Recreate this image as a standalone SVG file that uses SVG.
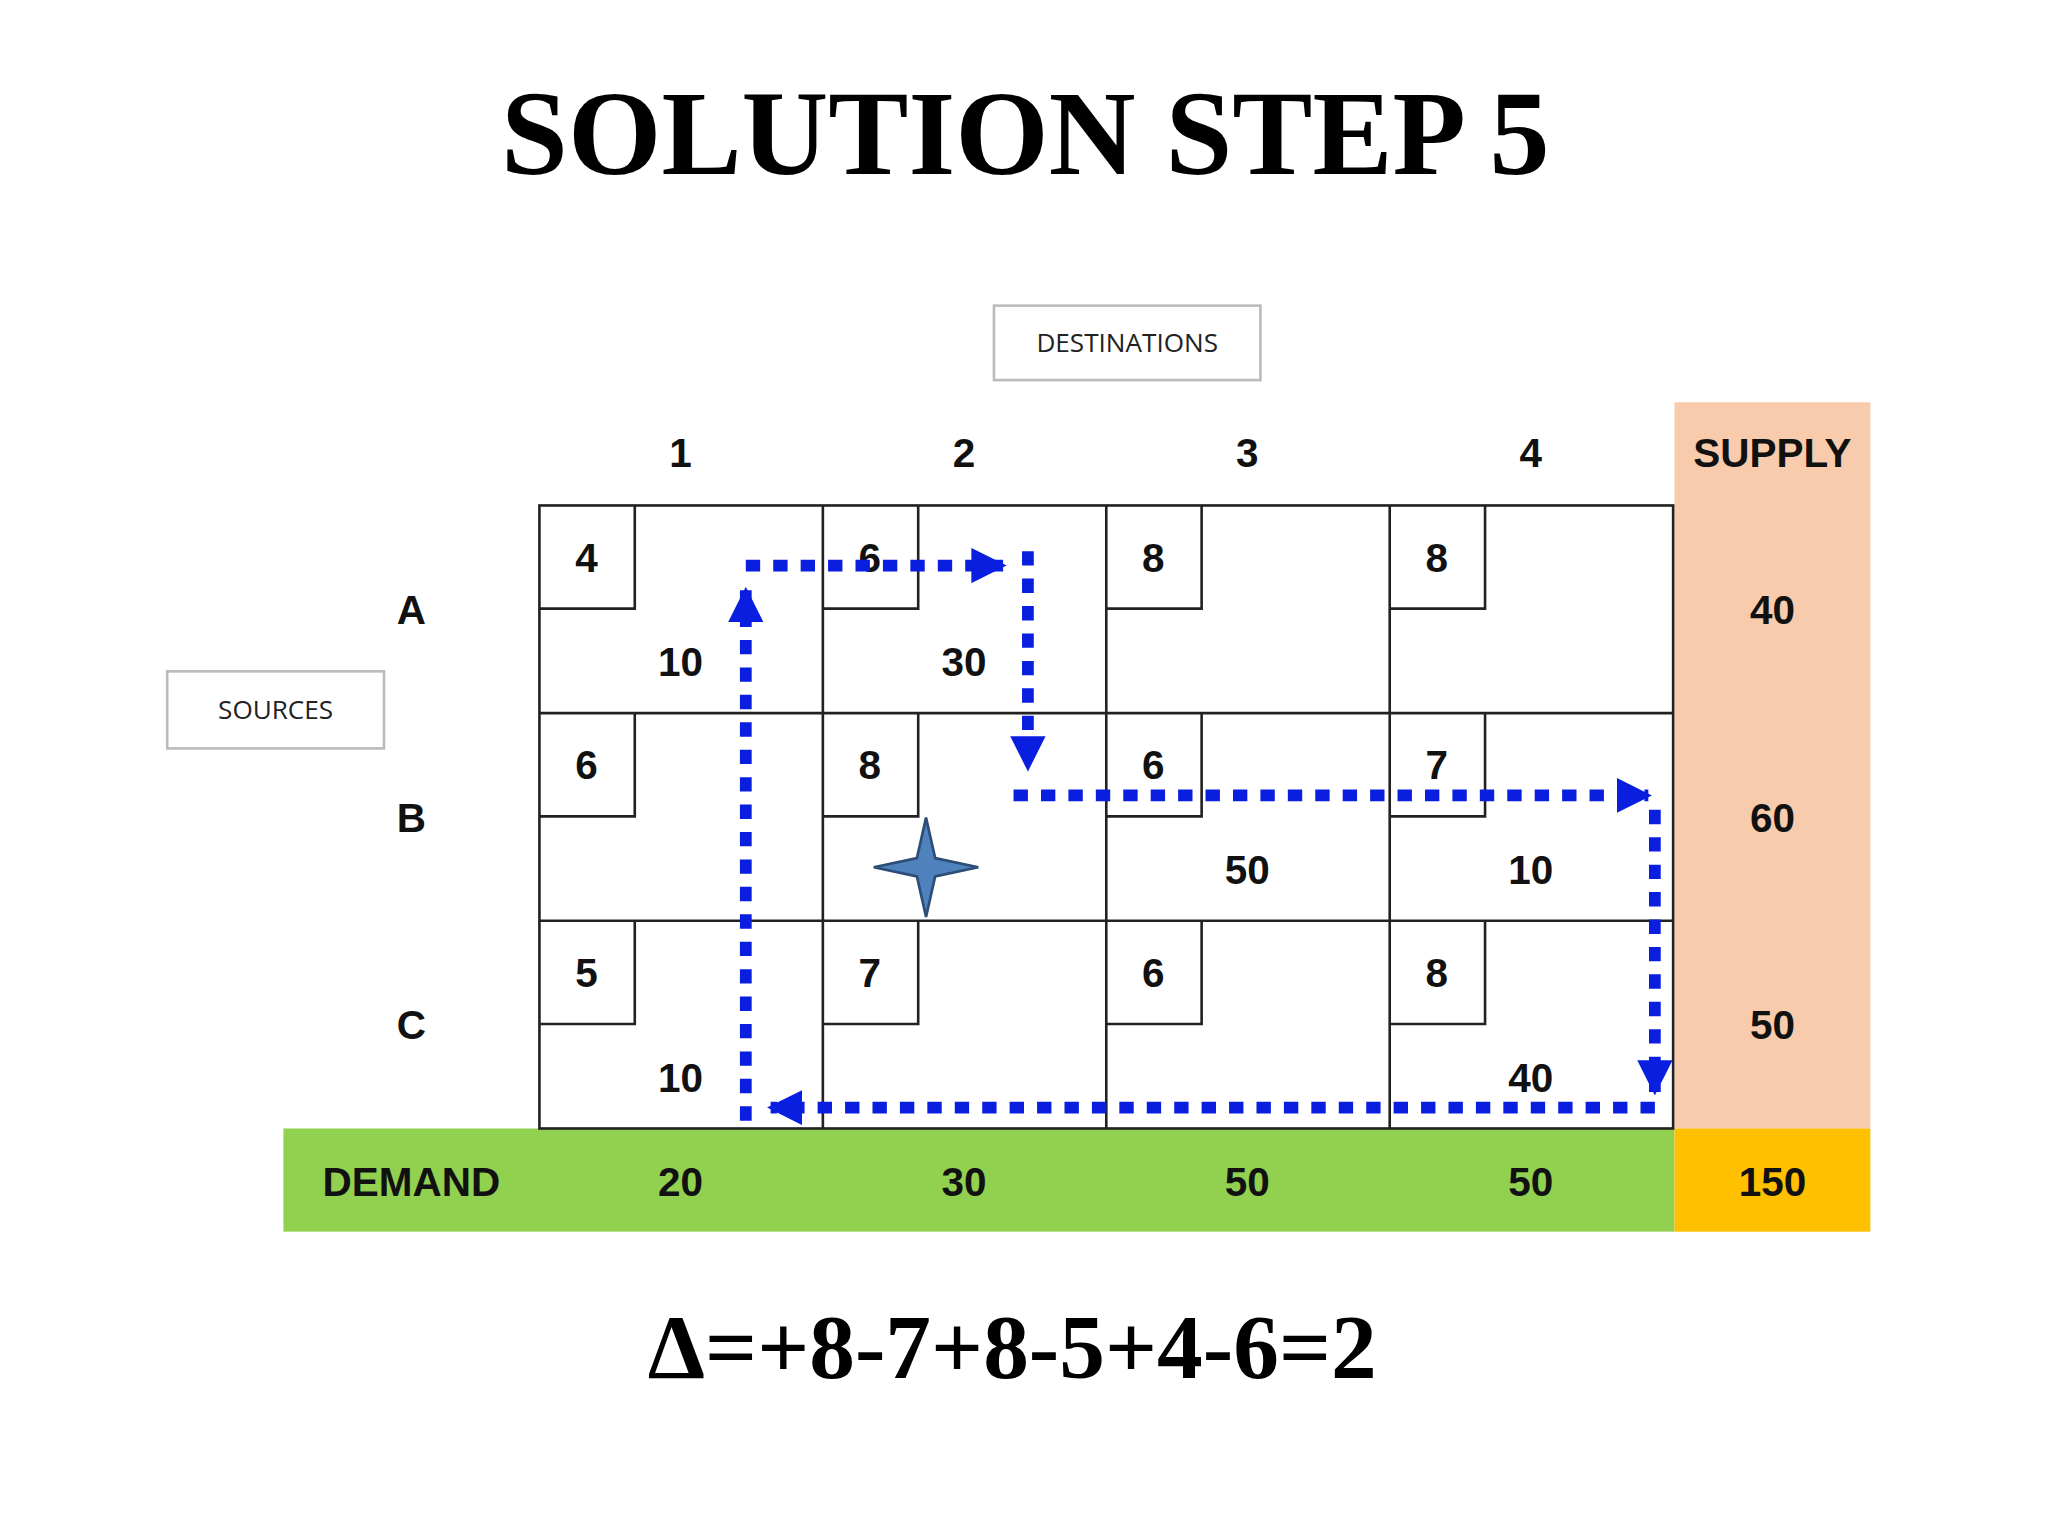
<svg xmlns="http://www.w3.org/2000/svg" width="2048" height="1536" viewBox="0 0 2048 1536">
<style>
.s{font-family:"Liberation Sans",Arial,sans-serif;font-weight:bold;font-size:31px;fill:#111;text-anchor:middle;dominant-baseline:central}
.lbl{font-family:"Open Sans","Liberation Sans",sans-serif;font-size:20px;fill:#222;text-anchor:middle;dominant-baseline:central}
.g{fill:none;stroke:#222;stroke-width:2}
.p{fill:none;stroke:#0a1ee0;stroke-width:9;stroke-dasharray:11 10}
</style>
<defs><marker id="ah" viewBox="0 0 10 10" refX="9" refY="5" markerWidth="3" markerHeight="3" orient="auto" markerUnits="strokeWidth"><path d="M0,0L10,5L0,10z" fill="#0a1ee0"/></marker></defs>
<rect width="2048" height="1536" fill="#fff"/>
<g transform="scale(1.30612)">
<text x="785" y="133" font-family="Liberation Serif,serif" font-weight="bold" font-size="92" text-anchor="middle" fill="#000">SOLUTION STEP 5</text>
<g id="destinations"><rect x="761" y="234" width="204" height="57" fill="#fff" stroke="#bbb" stroke-width="2"/><text class="lbl" x="863" y="262">DESTINATIONS</text></g>
<g id="sources"><rect x="128" y="514" width="166" height="59" fill="#fff" stroke="#bbb" stroke-width="2"/><text class="lbl" x="211" y="543">SOURCES</text></g>
<rect x="1282" y="308" width="150" height="556" fill="#f8cbad"/>
<rect x="217" y="864" width="1065" height="79" fill="#92d050"/>
<rect x="1282" y="864" width="150" height="79" fill="#ffc000"/>
<g id="grid">
<rect class="g" x="413" y="387" width="868" height="477"/>
<path class="g" d="M630 387V864M847 387V864M1064 387V864M413 546H1281M413 705H1281"/>
<path class="g" d="M486 387V466H413M703 387V466H630M920 387V466H847M1137 387V466H1064M486 546V625H413M703 546V625H630M920 546V625H847M1137 546V625H1064M486 705V784H413M703 705V784H630M920 705V784H847M1137 705V784H1064"/>
</g>
<g id="texts">
<text class="s" x="521" y="347">1</text><text class="s" x="738" y="347">2</text><text class="s" x="955" y="347">3</text><text class="s" x="1172" y="347">4</text><text class="s" x="1357" y="347">SUPPLY</text>
<text class="s" x="315" y="467">A</text><text class="s" x="315" y="626">B</text><text class="s" x="315" y="785">C</text>
<text class="s" x="449" y="427">4</text><text class="s" x="666" y="427">6</text><text class="s" x="883" y="427">8</text><text class="s" x="1100" y="427">8</text>
<text class="s" x="449" y="586">6</text><text class="s" x="666" y="586">8</text><text class="s" x="883" y="586">6</text><text class="s" x="1100" y="586">7</text>
<text class="s" x="449" y="745">5</text><text class="s" x="666" y="745">7</text><text class="s" x="883" y="745">6</text><text class="s" x="1100" y="745">8</text>
<text class="s" x="521" y="507">10</text><text class="s" x="738" y="507">30</text><text class="s" x="955" y="666">50</text><text class="s" x="1172" y="666">10</text><text class="s" x="521" y="825">10</text><text class="s" x="1172" y="825">40</text>
<text class="s" x="1357" y="467">40</text><text class="s" x="1357" y="626">60</text><text class="s" x="1357" y="785">50</text>
<text class="s" x="315" y="905">DEMAND</text><text class="s" x="521" y="905">20</text><text class="s" x="738" y="905">30</text><text class="s" x="955" y="905">50</text><text class="s" x="1172" y="905">50</text><text class="s" x="1357" y="905">150</text>
</g>
<g id="connectors">
<path class="p" d="M571 858V452" marker-end="url(#ah)"/>
<path class="p" d="M571 433H768" marker-end="url(#ah)"/>
<path class="p" d="M787 422V588" marker-end="url(#ah)"/>
<path class="p" d="M776 609H1262" marker-end="url(#ah)"/>
<path class="p" d="M1267 620V836" marker-end="url(#ah)"/>
<path class="p" d="M1267 848H590" marker-end="url(#ah)"/>
</g>
<g id="star"><path d="M709 626L716 657L749 664L716 671L709 702L702 671L669 664L702 657Z" fill="#4f81bd" stroke="#2c4d75" stroke-width="2"/></g>
<text x="775" y="1055" font-family="Liberation Serif,serif" font-weight="bold" font-size="70" text-anchor="middle" fill="#000">Δ=+8-7+8-5+4-6=2</text>
</g>
</svg>
